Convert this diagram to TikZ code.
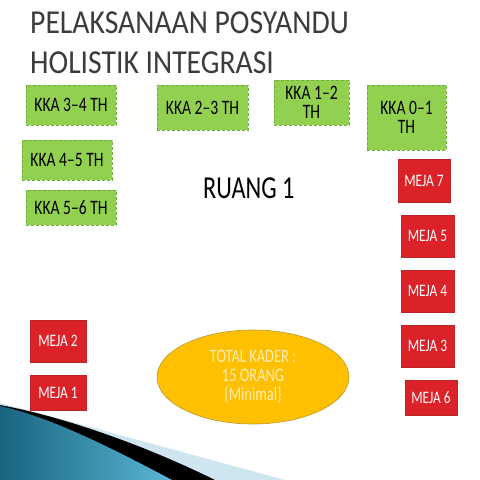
\documentclass[tikz,border=0pt]{standalone}
\usepackage{fontspec}
\setmainfont[FakeStretch=0.76]{Carlito}
\newfontfamily\titlefont[FakeStretch=0.885]{Carlito}
\usetikzlibrary{shapes.geometric}
\definecolor{kkagreen}{HTML}{92D050}
\definecolor{kkaborder}{HTML}{72AE3C}
\definecolor{mejared}{HTML}{DC2229}
\definecolor{mejaborder}{HTML}{B8262C}
\definecolor{kaderfill}{HTML}{FFC000}
\definecolor{kaderborder}{HTML}{B89A30}
\definecolor{kadertext}{HTML}{FFEDB8}
\definecolor{titlegray}{HTML}{3C3C3C}
\definecolor{swooshlight}{HTML}{CFE5EF}
\definecolor{tealdark}{HTML}{17647E}
\definecolor{teallight}{HTML}{5BB6D4}
\tikzset{
  kka/.style={draw=kkaborder, densely dashed, line width=0.6pt, fill=kkagreen, align=center, inner sep=0pt,
    font=\fontsize{20.5}{19}\selectfont, text=black},
  meja/.style={draw=mejaborder, line width=0.6pt, fill=mejared, align=center, inner sep=0pt,
    font=\fontsize{17.5}{19}\selectfont, text=white},
  kader/.style={ellipse, draw=kaderborder, line width=0.6pt, fill=kaderfill, align=center, inner sep=0pt,
    font=\fontsize{19}{19}\selectfont, text=kadertext},
  titletext/.style={anchor=base west, inner sep=0pt, font=\titlefont\fontsize{33.5}{40}\selectfont, text=titlegray}
}
\begin{document}
\begin{tikzpicture}[x=1pt,y=-1pt]
\useasboundingbox (0,0) rectangle (480,480);
\fill[white] (0,0) rectangle (480,480);
% swoosh decoration
\fill[swooshlight] (0,403) -- (50,416) -- (285,480) -- (0,480) -- cycle;
\fill[black] (0,405) .. controls (60,416) and (140,443) .. (215,480) -- (0,480) -- cycle;
\shade[left color=tealdark, right color=teallight] (0,406) .. controls (50,417) and (110,447) .. (172,480) -- (0,480) -- cycle;
% title
\node[titletext] (t1) at (30,33) {PELAKSANAAN POSYANDU};
\node[titletext] (t2) at (30,73) {HOLISTIK INTEGRASI};
% KKA boxes
\node[kka, minimum width=90pt, minimum height=40pt] (k34) at (71,105) {KKA 3–4 TH};
\node[kka, minimum width=91pt, minimum height=45pt] (k23) at (202.5,107.5) {KKA 2–3 TH};
\node[kka, minimum width=75pt, minimum height=45pt] (k12) at (311.5,102.5) {KKA 1–2\\TH};
\node[kka, minimum width=79pt, minimum height=65pt] (k01) at (406.5,117.5) {KKA 0–1\\TH};
\node[kka, minimum width=90pt, minimum height=40pt] (k45) at (67,160) {KKA 4–5 TH};
\node[kka, minimum width=90pt, minimum height=35pt] (k56) at (71,207.5) {KKA 5–6 TH};
% room label
\node[anchor=base west, inner sep=0pt, font=\fontsize{32}{36}\selectfont] (ruang) at (203,198) {RUANG 1};
% MEJA boxes
\node[meja, minimum width=52pt, minimum height=43pt] (m7) at (424,180.5) {MEJA 7};
\node[meja, minimum width=53pt, minimum height=42pt] (m5) at (427.5,236) {MEJA 5};
\node[meja, minimum width=53pt, minimum height=42pt] (m4) at (427.5,291) {MEJA 4};
\node[meja, minimum width=53pt, minimum height=42pt] (m3) at (427.5,346) {MEJA 3};
\node[meja, minimum width=52pt, minimum height=35pt] (m6) at (431,397.5) {MEJA 6};
\node[meja, minimum width=56pt, minimum height=42pt] (m2) at (58,341) {MEJA 2};
\node[meja, minimum width=56pt, minimum height=35pt] (m1) at (58,392.5) {MEJA 1};
% kader ellipse
\node[kader, minimum width=192pt, minimum height=94pt] (kader) at (253,377) {TOTAL KADER :\\15 ORANG\\\{Minimal\}};
\end{tikzpicture}
\end{document}
